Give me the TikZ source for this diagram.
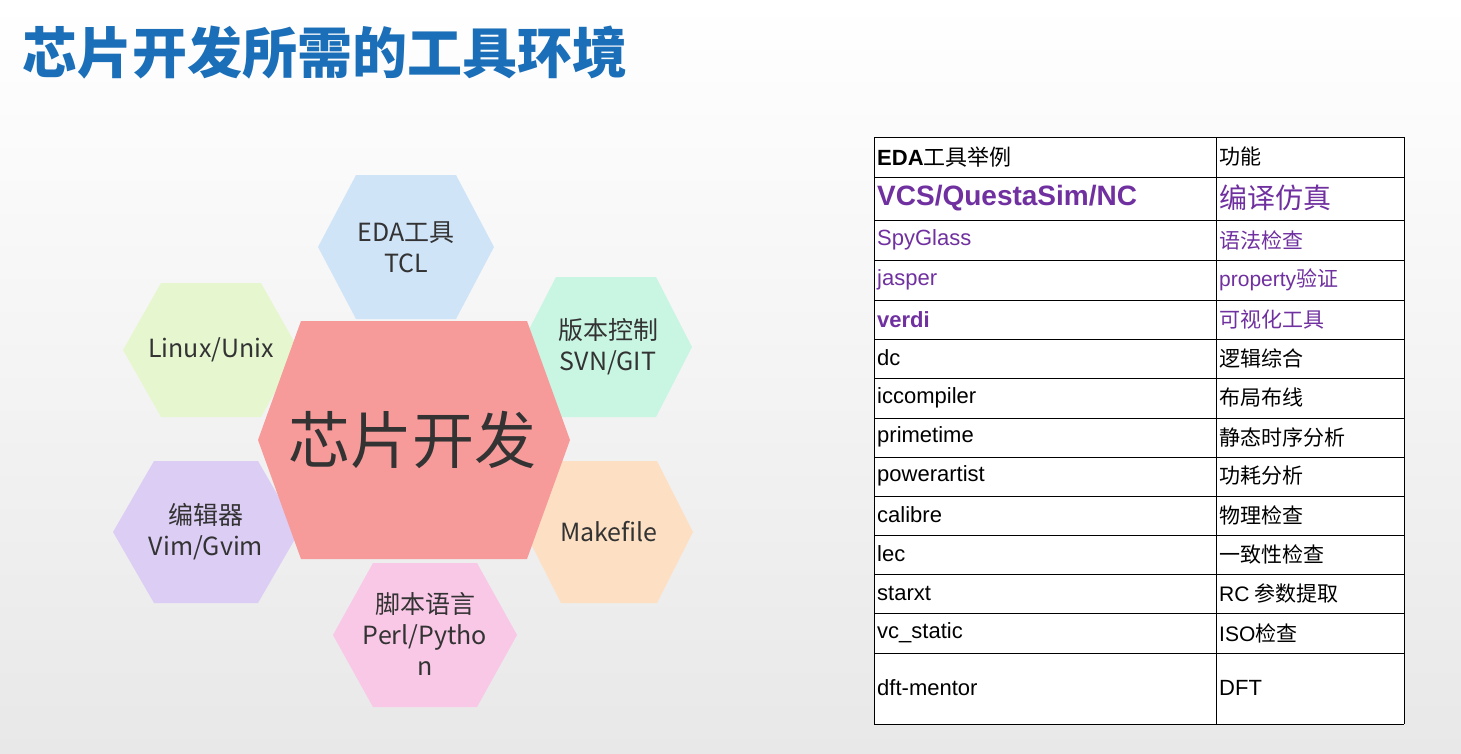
\documentclass[tikz,border=0pt]{standalone}
\usepackage{fontspec}
\setmainfont{Noto Sans CJK SC}
\newfontfamily\lat{Liberation Sans}
\definecolor{ttl}{HTML}{1A6FB8}
\definecolor{pur}{HTML}{7030A0}
\definecolor{hexfg}{HTML}{333333}
\definecolor{cEda}{HTML}{D0E4F8}
\definecolor{cLin}{HTML}{E6F7D0}
\definecolor{cVer}{HTML}{C9F5E3}
\definecolor{cEdi}{HTML}{DCCDF5}
\definecolor{cMak}{HTML}{FDE0C4}
\definecolor{cScr}{HTML}{F9C8E6}
\definecolor{cCore}{HTML}{F79A9A}
\begin{document}
\begin{tikzpicture}[x=1pt,y=-1pt,
  hexlbl/.style={text=hexfg,align=center,font=\fontsize{25}{31}\selectfont},
  cell/.style={anchor=west,font=\lat\fontsize{22}{26}\selectfont,inner sep=0pt},
  ccell/.style={anchor=west,font=\fontsize{21}{26}\selectfont,inner sep=0pt}]
\useasboundingbox (0,0) rectangle (1461,753);
\shade[top color=white,bottom color=black!9] (0,0) rectangle (1461,753);
\node[anchor=west,text=ttl,font=\bfseries\fontsize{55}{60}\selectfont,inner sep=0pt] (title) at (22,53) {芯片开发所需的工具环境};
\newcommand{\hexa}[6]{\fill[#6] (#1-#3,#2) -- (#1-#4,#2-#5) -- (#1+#4,#2-#5) -- (#1+#3,#2) -- (#1+#4,#2+#5) -- (#1-#4,#2+#5) -- cycle;}
\hexa{406}{247}{88}{50}{72}{cEda}
\hexa{211}{350}{88}{50}{67}{cLin}
\hexa{606}{347}{86}{50}{70}{cVer}
\hexa{206}{532}{93}{52}{71}{cEdi}
\hexa{609}{532}{84}{48}{71}{cMak}
\hexa{425}{635}{92}{52}{72}{cScr}
\hexa{414}{440}{156}{113}{119}{cCore}
\node[hexlbl] (eda) at (406,247) {EDA工具\\TCL};
\node[hexlbl] (lin) at (211,350) {Linux/Unix};
\node[hexlbl] (ver) at (608,347) {版本控制\\SVN/GIT};
\node[hexlbl] (edi) at (206,532) {编辑器\\Vim/Gvim};
\node[hexlbl] (mak) at (609,532) {Makefile};
\node[hexlbl] (scr) at (425,634) {脚本语言\\Perl/Pytho\\n};
\node[text=hexfg,font=\fontsize{62}{66}\selectfont] (core) at (412,440) {芯片开发};
\fill[white] (874,137) rectangle (1404,724);
\foreach \y in {137,177,220,260,300,339,378,418,457,496,535,574,613,653,724}
  \draw[black,line width=1pt] (874,\y) -- (1404,\y);
\draw[line width=1pt] (874,137) -- (874,724) (1216,137) -- (1216,724) (1404,137) -- (1404,724);
\node[cell] (h1) at (877,157) {\textbf{EDA}\rmfamily 工具举例};
\node[ccell] (h2) at (1219,157) {功能};
\node[cell,text=pur,font=\lat\bfseries\fontsize{28}{32}\selectfont] (a1) at (877,198) {VCS/QuestaSim/NC};
\node[ccell,text=pur,font=\fontsize{28}{32}\selectfont] (b1) at (1219,198) {编译仿真};
\node[cell,text=pur] (a2) at (877,240) {SpyGlass};
\node[ccell,text=pur] (b2) at (1219,240) {语法检查};
\node[cell,text=pur] (a3) at (877,280) {jasper};
\node[ccell,text=pur] (b3) at (1219,280) {{\lat property}验证};
\node[cell,text=pur,font=\lat\bfseries\fontsize{22}{26}\selectfont] (a4) at (877,320) {verdi};
\node[ccell,text=pur] (b4) at (1219,320) {可视化工具};
\node[cell] (a5) at (877,358) {dc};
\node[ccell] (b5) at (1219,358) {逻辑综合};
\node[cell] (a6) at (877,398) {iccompiler};
\node[ccell] (b6) at (1219,398) {布局布线};
\node[cell] (a7) at (877,437) {primetime};
\node[ccell] (b7) at (1219,437) {静态时序分析};
\node[cell] (a8) at (877,476) {powerartist};
\node[ccell] (b8) at (1219,476) {功耗分析};
\node[cell] (a9) at (877,515) {calibre};
\node[ccell] (b9) at (1219,515) {物理检查};
\node[cell] (a10) at (877,554) {lec};
\node[ccell] (b10) at (1219,554) {一致性检查};
\node[cell] (a11) at (877,593) {starxt};
\node[ccell] (b11) at (1219,593) {{\lat RC} 参数提取};
\node[cell] (a12) at (877,633) {vc\_static};
\node[ccell] (b12) at (1219,633) {{\lat ISO}检查};
\node[cell] (a13) at (877,688) {dft-mentor};
\node[cell] (b13) at (1219,688) {DFT};
\end{tikzpicture}
\end{document}
